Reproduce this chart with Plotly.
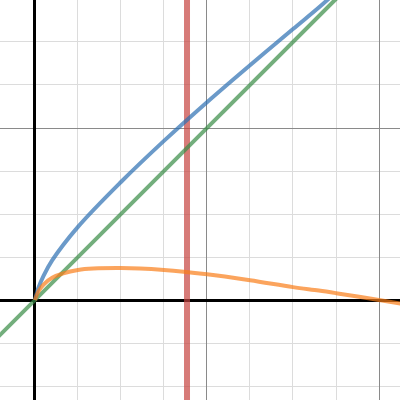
import plotly.graph_objects as go

xs = [0, 0.02, 0.05, 0.1, 0.25, 0.5, 0.75, 1.0, 1.25, 1.5, 1.65, 1.75, 2.0, 2.15]
orange = [0, 0.05, 0.09, 0.13, 0.175, 0.186, 0.175, 0.15, 0.115, 0.075, 0.055, 0.04, 0.0, -0.025]
blue_x = [0, 0.02, 0.05, 0.1, 0.25, 0.5, 0.75, 1.0, 1.25, 1.5, 1.65, 1.75]
blue = [0, 0.07, 0.14, 0.23, 0.425, 0.686, 0.925, 1.15, 1.365, 1.575, 1.70, 1.79]
green_x = [-0.3, 1.9]
green = [-0.3, 1.9]
red_x = 0.884

fig = go.Figure()
fig.add_trace(go.Scatter(x=[red_x, red_x], y=[-1, 2], mode="lines",
                         line=dict(color="#c74440", width=6), opacity=0.7))
fig.add_trace(go.Scatter(x=green_x, y=green, mode="lines",
                         line=dict(color="#388c46", width=4), opacity=0.7))
fig.add_trace(go.Scatter(x=blue_x, y=blue, mode="lines", line_shape="spline",
                         line=dict(color="#2d70b3", width=4), opacity=0.7))
fig.add_trace(go.Scatter(x=xs, y=orange, mode="lines", line_shape="spline",
                         line=dict(color="#fa7e19", width=4), opacity=0.7))

ax = dict(showticklabels=False, ticks="", tick0=0, dtick=1,
          gridcolor="#8a8a8a", gridwidth=1,
          zeroline=True, zerolinecolor="black", zerolinewidth=2.5,
          minor=dict(dtick=0.25, tick0=0, showgrid=True, gridcolor="#dcdcdc", gridwidth=1),
          showline=False, fixedrange=True)
fig.update_layout(width=400, height=400, margin=dict(l=0, r=0, t=0, b=0),
                  plot_bgcolor="white", paper_bgcolor="white", showlegend=False,
                  xaxis=dict(ax, range=[-0.203, 2.122]),
                  yaxis=dict(ax, range=[-0.581, 1.744]))
fig.write_html("out.html", config={"displayModeBar": False},
               post_script="document.body.style.margin='0';")
